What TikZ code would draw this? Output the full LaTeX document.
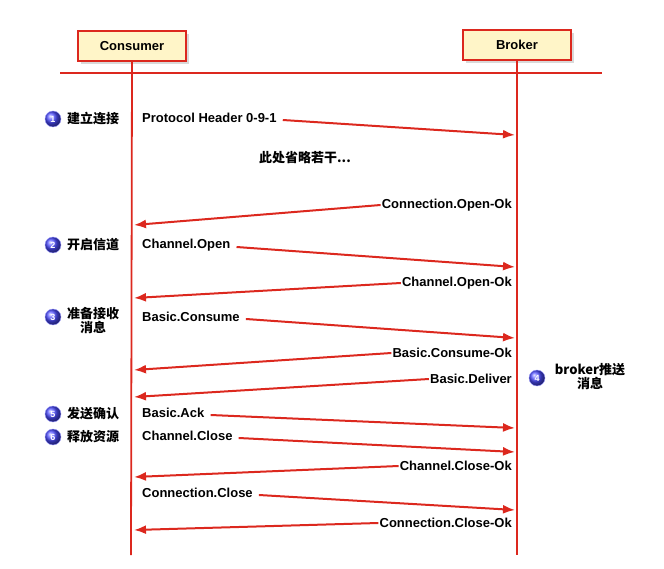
\documentclass[tikz,border=0pt]{standalone}
\usepackage{fontspec}
\setmainfont{Liberation Sans}
\newfontfamily\cjk{Noto Sans CJK SC}
\usetikzlibrary{arrows.meta,shadows}
\definecolor{lred}{RGB}{220,40,30}
\definecolor{boxfill}{RGB}{255,245,200}
\newcommand{\lblfont}{\fontsize{13}{14.5}\selectfont\bfseries}
\begin{document}
\begin{tikzpicture}[x=1pt,y=-1pt,
 msg/.style={draw=lred,line width=2pt,-{Latex[length=12pt,width=9pt]}},
 life/.style={draw=lred,line width=1.8pt},
 actor/.style={draw=lred,line width=1.5pt,fill=boxfill,minimum width=108pt,minimum height=30pt,font=\lblfont,drop shadow={opacity=0.3}},
 lbl/.style={font=\lblfont,inner sep=1pt},
 cn/.style={font=\cjk\lblfont,inner sep=1pt,align=center},
 num/.style={circle,draw=blue!40,ball color=blue!70,text=white,font=\bfseries\small,inner sep=0pt,minimum size=16pt}]
\useasboundingbox (0,0) rectangle (664,569);
\node[actor] (cons) at (132,46) {Consumer};
\node[actor] (brok) at (517,45) {Broker};
\coordinate (hl) at (60,73); \coordinate (hr) at (602,73);
\draw[life] (hl) -- (hr);
\coordinate (ce) at (131,555); \coordinate (be) at (517,555);
\draw[life] (cons.south) -- (ce);
\draw[life] (brok.south) -- (be);
% steps
\node[num] (n1) at (53,119) {1}; \node[cn,anchor=west] (t1) at (66,119) {建立连接};
\node[num] (n2) at (53,245) {2}; \node[cn,anchor=west] (t2) at (66,245) {开启信道};
\node[num] (n3) at (53,317) {3}; \node[cn,anchor=north west] (t3) at (66,306) {准备接收\\消息};
\node[num] (n4) at (537,378) {4}; \node[cn,anchor=north] (t4) at (590,362) {broker推送\\消息};
\node[num] (n5) at (53,414) {5}; \node[cn,anchor=west] (t5) at (66,414) {发送确认};
\node[num] (n6) at (53,437) {6}; \node[cn,anchor=west] (t6) at (66,437) {释放资源};
\node[cn] (omit) at (305,158) {此处省略若干...};
% messages
\node[lbl,anchor=west] (m1) at (141,118) {Protocol Header 0-9-1};
\coordinate (e1) at (515,135); \draw[msg] (m1.east)++(5,2) -- (e1);
\node[lbl,anchor=east] (m2) at (513,205) {Connection.Open-Ok};
\coordinate (e2) at (134,225); \draw[msg] (m2.west) -- (e2);
\node[lbl,anchor=west] (m3) at (141,245) {Channel.Open};
\coordinate (e3) at (515,267); \draw[msg] (m3.east)++(5,2) -- (e3);
\node[lbl,anchor=east] (m4) at (513,283) {Channel.Open-Ok};
\coordinate (e4) at (134,298); \draw[msg] (m4.west) -- (e4);
\node[lbl,anchor=west] (m5) at (141,317) {Basic.Consume};
\coordinate (e5) at (515,338); \draw[msg] (m5.east)++(5,2) -- (e5);
\node[lbl,anchor=east] (m6) at (513,353) {Basic.Consume-Ok};
\coordinate (e6) at (134,370); \draw[msg] (m6.west) -- (e6);
\node[lbl,anchor=east] (m7) at (513,379) {Basic.Deliver};
\coordinate (e7) at (134,397); \draw[msg] (m7.west) -- (e7);
\node[lbl,anchor=west] (m8) at (141,413) {Basic.Ack};
\coordinate (e8) at (515,428); \draw[msg] (m8.east)++(5,2) -- (e8);
\node[lbl,anchor=west] (m9) at (141,436) {Channel.Close};
\coordinate (e9) at (515,452); \draw[msg] (m9.east)++(5,2) -- (e9);
\node[lbl,anchor=east] (m10) at (513,466) {Channel.Close-Ok};
\coordinate (e10) at (134,477); \draw[msg] (m10.west) -- (e10);
\node[lbl,anchor=west] (m11) at (141,493) {Connection.Close};
\coordinate (e11) at (515,510); \draw[msg] (m11.east)++(5,2) -- (e11);
\node[lbl,anchor=east] (m12) at (513,523) {Connection.Close-Ok};
\coordinate (e12) at (134,530); \draw[msg] (m12.west) -- (e12);
\end{tikzpicture}
\end{document}
